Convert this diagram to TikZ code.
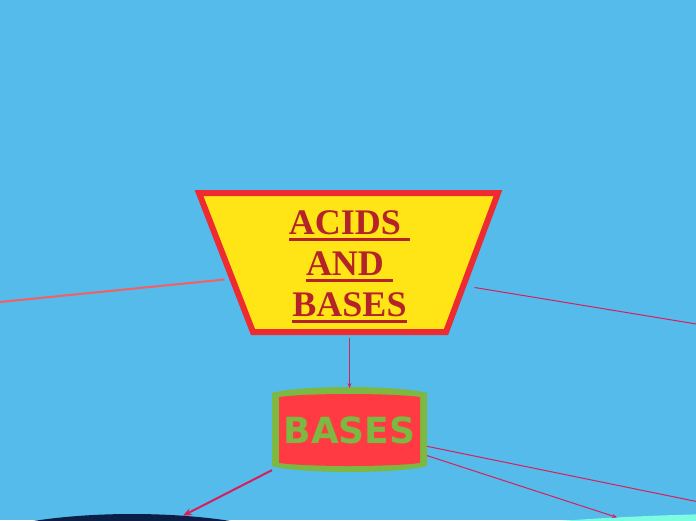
\documentclass[tikz,border=0pt]{standalone}
\usepackage{fontspec}
\usetikzlibrary{shapes.geometric,arrows.meta}
\newfontfamily\titlefont{Liberation Serif}
\newfontfamily\basesfont{DejaVu Sans}
\definecolor{bg}{HTML}{55BBEB}
\definecolor{ttlyellow}{HTML}{FFE516}
\definecolor{ttlred}{HTML}{EE2B31}
\definecolor{ttltext}{HTML}{B5232A}
\definecolor{bgreen}{HTML}{7CB842}
\definecolor{bred}{HTML}{FF3A42}
\definecolor{navy}{HTML}{0B1E45}
\definecolor{aqua}{HTML}{7CFCE0}
\definecolor{crimson}{HTML}{D81E5B}
\definecolor{coral}{HTML}{F55E62}
\newcommand\ulword[1]{\setbox0=\hbox{#1}\rlap{\copy0}\rule[-6.5pt]{\wd0}{3pt}}
\begin{document}
\begin{tikzpicture}[x=1pt,y=-1pt,
  thinconn/.style={draw=crimson,line width=1pt},
  thinarrow/.style={thinconn,-{Stealth[length=5pt,width=4pt]}},
  thickarrow/.style={draw=crimson,line width=2pt,-{Stealth[length=9pt,width=7pt]}},
  ghost/.style={inner sep=0pt,outer sep=0pt}]
\useasboundingbox (0,0) rectangle (696,520);
\fill[bg] (0,0) rectangle (696,520);
\clip (0,0) rectangle (696,520);
% title trapezoid
\filldraw[fill=ttlyellow,draw=ttlred,line width=6pt,line join=miter]
  (199,193) -- (498,193) -- (446,332) -- (253,332) -- cycle;
\node[ghost,minimum width=250pt,minimum height=136pt,align=center,
  font=\titlefont\bfseries\fontsize{36}{41}\selectfont,text=ttltext]
  (title) at (349.5,267) {\ulword{ACIDS\ }\\\ulword{AND\ }\\\ulword{BASES}};
% bases node background
\fill[bgreen] (272,393) .. controls (300,385) and (399,385) .. (427,393)
  -- (427,466) .. controls (399,474) and (300,474) .. (272,466) -- cycle;
\fill[bred] (279,397) .. controls (310,393) and (389,393) .. (420,397)
  -- (420,463) .. controls (389,467) and (310,467) .. (279,463) -- cycle;
\node[ghost,minimum width=155pt,minimum height=85pt,
  font=\basesfont\bfseries\fontsize{36}{40}\selectfont,text=bgreen]
  (bases) at (349.5,430.5) {BASES};
% partly visible nodes
\node[ghost,ellipse,fill=navy,minimum width=372pt,minimum height=92pt] (navynode) at (132,560) {};
\node[ghost,ellipse,fill=aqua,minimum width=800pt,minimum height=80pt] (aquanode) at (800,553) {};
% off-canvas ends
\coordinate (offL) at (-60,308);
\coordinate (offR) at (760,334.5);
\coordinate (offR2) at (760,514.5);
% connectors
\draw[draw=coral,line width=2pt] (title) -- (offL);
\draw[thinconn] (title) -- (offR);
\draw[thinarrow,shorten <=3pt] (title.south) -- (bases.north);
\draw[thickarrow] (bases) -- (navynode.41);
\draw[thinconn] (bases) -- (offR2);
\draw[thinarrow] (bases) -- (aquanode.169);
\end{tikzpicture}
\end{document}
